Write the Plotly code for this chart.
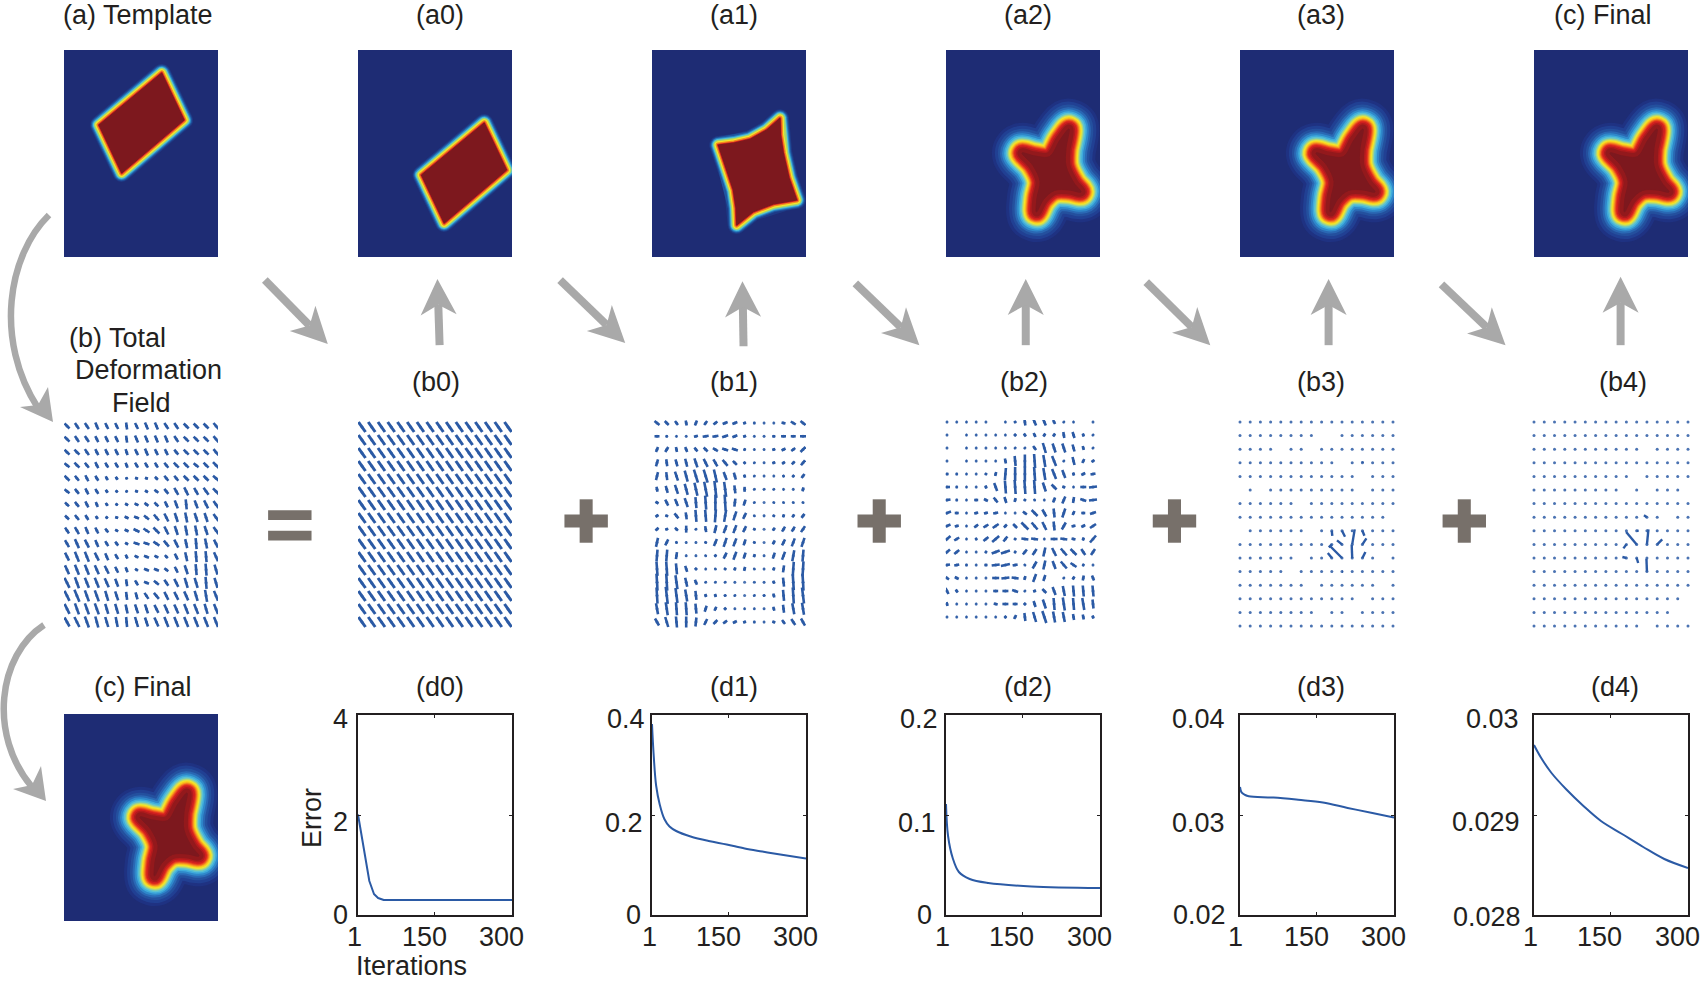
import plotly.graph_objects as go

W, H = 1702, 981
S = 1702 / 1568
FONT = "Liberation Sans"
INK = "#231f20"
GREY = "#a9a9a9"
BLUE = "#2b5aa5"
BG = "#1e2c74"
CORE = "#7d181e"

# ---- template images: outline of the dark core in image pixels
RECT_X = [97.7, 120, 57.7, 35]
RECT_Y = [23, 70, 123, 75]
RECT_SHIFT = [28.5, 50]
MID_X = [128, 128.5, 131.3, 137, 144.7, 133, 121.3, 101.3, 84.7, 84, 81.3, 74, 66.3, 82, 98, 114.7]
MID_Y = [68.3, 85, 103, 128, 150, 152, 154, 161.7, 175, 158, 140, 118, 95, 93, 89.3, 80]
STAR_X = [123, 120, 120, 128, 135, 123, 108.5, 97.5, 90.5, 91, 94, 87, 76, 89, 103.5, 114]
STAR_Y = [79, 98.5, 116, 133, 142, 140, 140.5, 149.5, 162, 148, 131.5, 115.5, 103, 106, 106.5, 90]

# distance from the core (px) and colour of each contour band, outermost first
SHARP_D = [9, 8, 7, 6, 5, 3.8, 2.6, 1.3]
SHARP_C = ["#1e3a86", "#1f55a0", "#2a86c4", "#4fc0d8", "#a6d66b", "#f5e62a", "#f5891f", "#d7241f"]
SOFT_D = [30, 27, 24, 21.5, 19.5, 17.5, 16, 14.5, 13.5, 12.5, 11.5, 10.5, 9.5, 8.5, 7.5, 6, 4.5]
SOFT_C = ["#1f3282", "#214093", "#24509e", "#2a68b4", "#2f88ca", "#3fabdc", "#5cc2d2", "#93d19a",
          "#c4dd62", "#f3e62c", "#fbc91c", "#f79a20", "#ef651f", "#e4351e", "#cf1f1f", "#b01b1d", "#93191c"]

# ---- deformation fields, 16 x 16, segment vectors in px, None = nothing drawn
B_DX = [
    [5, 4, 4, 3, 3, 3, 1, 3, 3, 3, 4, 4, 5, 5, 5, 5],
    [5, 4, 4, 3, 3, 3, 1, 3, 3, 3, 3, 4, 5, 5, 5, 5],
    [5, 5, 4, 3, 3, 3, 2, 3, 3, 3, 3, 4, 5, 5, 5, 5],
    [5, 5, 4, 3, 3, 3, 2, 3, 3, 3, 4, 5, 5, 5, 5, 6],
    [5, 4, 3, 3, 2, 2, 1, 3, 3, 3, 4, 4, 5, 5, 5, 6],
    [5, 4, 3, 3, 2, 2, 2, 3, 3, 4, 4, 4, 4, 4, 5, 6],
    [4, 4, 3, 2, 2, 2, 3, 4, 4, 4, 3, 3, 1, 3, 4, 5],
    [4, 4, 3, 2, 2, 3, 4, 5, 5, 5, 4, 3, 2, 3, 3, 5],
    [4, 4, 3, 3, 3, 3, 4, 6, 6, 6, 4, 3, 2, 2, 3, 5],
    [4, 4, 4, 3, 3, 3, 3, 6, 6, 6, 5, 4, 2, 1, 2, 4],
    [4, 4, 4, 4, 3, 3, 2, 4, 5, 4, 3, 3, 2, 1, 1, 4],
    [4, 4, 4, 4, 4, 3, 2, 3, 5, 5, 4, 3, 3, 1, 1, 3],
    [5, 4, 4, 4, 4, 3, 1, 3, 5, 5, 4, 4, 3, 3, 1, 3],
    [5, 5, 4, 4, 3, 3, 1, 2, 4, 5, 4, 4, 4, 3, 2, 4],
    [5, 4, 4, 4, 3, 3, 2, 3, 3, 4, 4, 4, 4, 4, 3, 4],
    [5, 5, 4, 3, 3, 2, 1, 3, 3, 4, 4, 4, 4, 4, 4, 4],
]
B_DY = [
    [5, 6, 6, 7, 6, 6, 7, 6, 7, 7, 6, 6, 5, 5, 5, 6],
    [5, 6, 6, 6, 6, 6, 7, 7, 7, 7, 7, 6, 5, 5, 5, 6],
    [5, 5, 6, 6, 6, 6, 6, 6, 7, 6, 6, 5, 5, 5, 5, 6],
    [4, 5, 5, 6, 5, 5, 5, 5, 5, 5, 5, 5, 5, 4, 5, 6],
    [5, 5, 6, 5, 4, 3, 2, 1, 1, 3, 5, 5, 5, 5, 5, 5],
    [4, 5, 6, 5, 3, 2, 1, 1, 2, 3, 5, 7, 8, 7, 7, 6],
    [4, 5, 6, 5, 3, 2, 2, 2, 3, 4, 6, 8, 10, 8, 8, 7],
    [4, 5, 5, 3, 2, 1, 2, 2, 4, 6, 8, 9, 10, 9, 9, 7],
    [6, 7, 7, 6, 4, 2, 2, 3, 4, 6, 8, 9, 10, 10, 9, 7],
    [7, 9, 8, 7, 5, 4, 2, 2, 2, 4, 6, 8, 9, 11, 10, 8],
    [8, 10, 10, 8, 7, 5, 4, 2, 2, 2, 3, 6, 9, 11, 11, 9],
    [9, 10, 10, 9, 8, 6, 5, 2, 2, 2, 3, 6, 9, 11, 12, 10],
    [10, 11, 10, 10, 9, 8, 7, 5, 2, 4, 6, 8, 10, 10, 12, 10],
    [10, 12, 11, 11, 10, 9, 8, 7, 6, 6, 8, 8, 9, 10, 12, 10],
    [10, 11, 11, 11, 10, 10, 9, 9, 9, 8, 9, 9, 10, 10, 10, 10],
    [9, 10, 11, 11, 10, 10, 10, 10, 9, 9, 10, 10, 10, 10, 10, 10],
]
# b0 is close to a uniform shift
B0_DX = [[7] * 16 for row in range(16)]
B0_DY = [[10] * 16 for row in range(16)]
B1_DX = [
    [5, 4, 3, 1, 2, 3, 4, 5, 5, 3, 2, 1, 1, 4, 5, 5],
    [5, 2, 1, 1, 4, 6, 6, 6, 5, 3, 1, 1, 3, 5, 5, 6],
    [2, 3, 1, 2, 3, 4, 5, 6, 6, 2, 1, 1, 3, 4, 4, 5],
    [2, 1, 2, 2, 3, 4, 4, 5, 4, 2, 1, 1, 3, 3, 3, 4],
    [2, 1, 3, 3, 4, 4, 3, 3, 2, 1, 1, 1, 1, 2, 2, 3],
    [1, 2, 3, 3, 3, 3, 2, 2, 1, 0, 1, 1, 1, 1, 1, 1],
    [3, 3, 3, 3, 1, 1, 0, 1, 1, 2, 1, 0, 1, 1, 1, 1],
    [3, 3, 4, 1, 1, 1, 1, 2, 3, 3, 1, 1, 1, 1, 2, 3],
    [3, 3, 3, 0, 1, 1, 2, 3, 3, 3, 1, 0, 2, 3, 3, 4],
    [2, 3, 2, 1, 1, 1, 3, 3, 3, 2, 1, 0, 2, 3, 3, 3],
    [1, 1, 1, 1, 1, 1, 2, 3, 3, 2, 1, 1, 2, 3, 2, 1],
    [1, 1, 1, 2, 2, 1, 1, 1, 1, 1, 1, 1, 1, 1, 1, 1],
    [1, 1, 2, 2, 2, 1, 1, 1, 1, 0, 0, 1, 1, 1, 1, 1],
    [1, 2, 2, 2, 1, 1, 1, 1, 1, 0, 1, 1, 1, 1, 1, 2],
    [2, 2, 1, 1, 1, 2, 2, 2, 1, 1, 1, 1, 1, 1, 2, 2],
    [4, 3, 1, 0, 1, 3, 4, 4, 4, 3, 2, 1, 3, 3, 4, 4],
]
B1_DY = [
    [4, 4, 4, 5, -5, -4, -3, -2, -2, -1, 0, 0, 0, 1, 3, 4],
    [0, 0, 0, 0, -1, -1, -1, -2, -2, -1, 0, 0, 0, 0, 0, 0],
    [-5, -5, 5, 5, 4, 4, 3, 2, 2, 1, 0, 0, -1, -2, -3, -5],
    [-7, 7, 7, 8, 9, 8, 7, 6, 4, 2, 1, 0, -1, -2, -3, -5],
    [-8, 8, 9, 11, 13, 13, 13, 8, 7, 3, 1, 0, 0, -1, -2, -4],
    [5, 7, 9, 11, 13, 15, 17, 15, 8, 5, 1, 1, 1, 0, 0, -4],
    [2, 6, 7, 9, 11, 14, 16, 16, -8, -6, 1, 0, -1, -1, -1, -1],
    [-2, 1, 5, 7, 12, 12, -13, -12, -9, -6, -1, 0, -2, -3, -3, -4],
    [-3, -1, 3, 7, 1, 6, -8, -8, -8, -6, -2, 0, -3, -5, -5, -6],
    [-9, -6, -1, 0, 0, -2, -7, -9, -8, -6, -2, 0, -4, -6, -8, -9],
    [-12, -12, -7, 0, 0, -1, -2, -6, -8, -6, -3, 0, -6, -8, -11, -12],
    [14, 14, 11, 6, 2, 0, -1, -2, -3, -4, -1, 0, -3, -7, -14, -15],
    [17, 17, 14, 9, 5, 1, 1, 1, 0, 0, 1, 0, 3, 9, 16, 17],
    [16, 17, 15, 12, 9, 3, 3, 2, 1, 0, 1, 2, 4, 11, 16, 16],
    [11, 13, 13, 13, 10, -6, -4, -2, 0, 0, 0, 0, 4, 8, 11, 12],
    [7, 10, 11, 11, -9, -6, -4, -3, -2, -1, 0, 0, 1, 4, 6, 7],
]
B2_DX = [
    [1, 1, 1, 1, 1, None, 1, 1, 1, 3, 3, 2, 1, 1, None, 1],
    [1, None, 1, 1, 1, 1, 1, 2, 2, 2, 2, 2, 1, 2, 1, 1],
    [1, None, 1, 1, 1, 1, 1, 1, 1, 3, 3, 3, 3, 2, 1, 1],
    [1, None, 1, 1, 1, 1, 1, 1, 0, 1, 2, 4, 1, 2, 2, 3],
    [3, 2, 1, 1, 1, 1, 1, 0, 0, 1, 2, 4, 3, 1, 4, 5],
    [6, 2, 1, 1, 1, 3, 1, 1, 1, 1, 3, 5, 3, 1, 6, 8],
    [7, 2, 1, 4, 4, 4, 2, 1, 1, 1, 1, 2, 3, 1, 6, 8],
    [8, 4, 1, 4, 4, 5, 1, 1, 4, 6, 4, 1, 3, 2, 4, 6],
    [7, 4, 1, 4, 5, 6, 3, 4, 7, 6, 4, 1, 4, 4, 4, 6],
    [7, 5, 1, 2, 5, 7, 4, 1, 7, 7, 1, 7, 7, 4, 1, 6],
    [6, 5, 1, 1, 2, 8, 9, 2, 4, 4, 2, 4, 6, 6, 4, 4],
    [6, 5, 2, 1, 3, 8, 9, 5, 1, 4, 2, 3, 6, 6, 2, 1],
    [4, 4, 1, 1, 1, 7, 8, 7, 1, 3, 2, None, 1, 2, 1, 2],
    [3, 2, 1, 1, 1, 5, 6, 6, 1, 3, 4, 3, 2, 1, 1, 1],
    [1, 1, 1, 1, 1, 4, 6, 5, 2, 2, 3, 1, 2, 1, 2, 1],
    [1, 1, 1, 1, 1, 1, 2, 2, 1, 3, 4, 2, 2, 1, 1, 1],
]
B2_DY = [
    [0, 0, 0, 0, 0, 0, 0, 2, 7, 7, 7, 4, 1, 0, 0, 0],
    [0, 0, 0, 0, 0, 0, 0, 2, 3, 4, -3, -3, 6, 6, 3, 1],
    [0, 0, 0, 0, 0, 0, 0, 1, 1, 4, 10, 9, 9, 7, 4, 1],
    [0, 0, 0, 0, 0, 0, 5, 10, 13, 14, 12, 10, 1, 8, -4, -2],
    [0, 0, 0, 0, -2, -4, -12, 14, 15, 14, 12, 10, 8, 3, -2, -1],
    [0, 0, 0, 0, 3, 8, 13, 14, 14, 14, 9, 5, 1, 0, 0, -1],
    [-1, 0, 0, 0, 2, 5, 6, -4, -2, -1, 0, -5, -7, -6, 2, -1],
    [-3, 0, 0, -1, -1, -1, 0, 0, 3, 6, 7, 9, -9, -4, 0, -2],
    [-3, -1, 0, -3, -3, -4, -3, 4, 7, 7, 8, 9, -7, -1, -2, -4],
    [-6, -3, 0, -1, -4, -6, -5, -2, 1, 1, 0, 0, 1, 1, -3, -7],
    [-5, -4, 0, 0, 1, -3, -3, 1, -5, -6, -9, 8, 7, 6, 6, -6],
    [-1, -1, 0, 0, 0, -1, -2, -1, -1, -7, -9, 8, 7, 4, 1, 0],
    [3, 2, 0, 0, 0, 0, -1, 1, -4, -8, -6, 0, 1, -3, -5, 5],
    [6, 3, 0, 0, 0, 0, 0, 2, 1, -1, 4, 8, 10, 11, 11, 11],
    [4, 0, 0, 0, 0, 1, 0, 0, 2, 6, 9, 12, 13, 12, 12, 9],
    [0, 0, 0, 0, 0, 0, -2, -4, 8, 10, 12, 11, 10, 6, 5, 3],
]
N = None
B3_DX = [
    [0, 0, 0, 0, 0, 0, 0, 0, 0, 0, 0, 0, 0, 0, 0, 0],
    [0, 0, 0, 0, 0, 0, 0, 0, N, N, 0, 0, 0, 0, 0, 0],
    [0, 0, 0, 0, N, 0, 0, N, 0, 0, 0, 0, 0, 0, 0, 0],
    [0, 0, 0, 0, 0, 0, 0, 0, 0, 0, N, 0, 0.5, 0, 0, 0],
    [0, 0, 0, 0, 0, 0, 0, 0, 0, 0, 0, 0, N, 0, 0, 0],
    [N, 0, N, 0, 0, 0, 0, 0, 0, 0, 0, 0, N, 0, 0, 0],
    [0, 0, 0, 0, 0, 0, N, 0, 0, 0, 0, 0, 0, 0, 0, 0],
    [0, 0, 0, 0, 0, 0, 0, 0, 0, 0, 0, 0, 0, 0, 0, N],
    [N, 0, 0, 0, 0, 0, 0, N, 0, 0.5, 3, 0, 2, 0, 0, 0],
    [0, 0, 0, 0, 0, 0, 0, 0, 0, -3, -5, 2.5, 4, 0, 0, 0],
    [0, 0, 0, 0, 0, 0, N, 0, 0, -4, -12, -0.5, 3, 0, N, 0],
    [0, 0, 0, 0, 0, N, 0, 0, 0, 0, 1, 0, 0, 0, 0, 0],
    [0, 0, 0, 0, 0, 0, 0, N, 0, 0, 0, 0, 0, 0, N, 0],
    [0, 0, 0, 0, 0, 0, 0, 0, 0, 0, 0, 0, N, 0, 0, 0],
    [0, 0, 0, 0, 0, 0, 0, 0, N, 0, 0, N, 0, 0, 0, 0],
    [0, 0, 0, 0, 0, 0, 0, 0, 0, 0, 0, 0, 0, 0, 0, 0],
]
B3_DY = [
    [0, 0, 0, 0, 0, 0, 0, 0, 0, 0, 0, 0, 0, 0, 0, 0],
    [0, 0, 0, 0, 0, 0, 0, 0, 0, 0, 0, 0, 0, 0, 0, 0],
    [0, 0, 0, 0, 0, 0, 0, 0, 0, 0, 0, 0, 0, 0, 0, 0],
    [0, 0, 0, 0, 0, 0, 0, 0, 0, 0, 0, 0, -1.5, 0, 0, 0],
    [0, 0, 0, 0, 0, 0, 0, 0, 0, 0, 0, 0, 0, 0, 0, 0],
    [0, 0, 0, 0, 0, 0, 0, 0, 0, 0, 0, 0, 0, 0, 0, 0],
    [0, 0, 0, 0, 0, 0, 0, 0, 0, 0, 0, 0, 0, 0, 0, 0],
    [0, 0, 0, 0, 0, 0, 0, 0, 0, 0, 0, 0, 0, 0, 0, 0],
    [0, 0, 0, 0, 0, 0, 0, 0, 0, 5, 6, 0, 5, 0, 0, 0],
    [0, 0, 0, 0, 0, 0, 0, 0, 0, 3, -4, -15, -6, 0, 0, 0],
    [0, 0, 0, 0, 0, 0, 0, 0, 0, -5, -12, -13, -6, 0, 0, 0],
    [0, 0, 0, 0, 0, 0, 0, 0, 0, 0, 0, 0, 0, 0, 0, 0],
    [0, 0, 0, 0, 0, 0, 0, 0, 0, 0, 0, 0, 0, 0, 0, 0],
    [0, 0, 0, 0, 0, 0, 0, 0, 0, 0, 0, 0, 0, 0, 0, 0],
    [0, 0, 0, 0, 0, 0, 0, 0, 0, 0, 0, 0, 0, 0, 0, 0],
    [0, 0, 0, 0, 0, 0, 0, 0, 0, 0, 0, 0, 0, 0, 0, 0],
]
B4_DX = [
    [0, 0, 0, 0, 0, 0, 0, 0, 0, 0, 0, 0, 0, 0, 0, 0],
    [0, 0, 0, 0, 0, 0, 0, 0, 0, 0, 0, 0, 0, 0, 0, 0],
    [0, 0, 0, 0, 0, 0, 0, 0, 0, 0, 0, N, 0, 0, 0, 0],
    [0, 0, 0, 0, 0, 0, 0, 0, 0, 0, 0, 0, 0, 0, 0, 0],
    [0, 0, 0, 0, 0, 0, 0, 0, 0, 0, N, 0, 0, 0, 0, 0],
    [0, 0, 0, 0, 0, 0, 0, 0, 0, N, 0, N, 0, 0, 0, N],
    [0, 0, 0, 0, 0, 0, 0, 0, 0, 0, 0, 0, 0, 0, 0, 0],
    [0, 0, 0, 0, 0, 0, 0, 0, 0, 0, 0, -3, 0, N, 0, 0],
    [0, 0, 0, 0, 0, 0, 0, 0, 0, 0, 2, 0, 0, 0, 0, 0],
    [0, 0, 0, 0, 0, 0, 0, 0, 0, -3, -10.5, 1.5, 5, 0, 0, 0],
    [0, 0, 0, 0, 0, 0, 0, 0, 0, -4, 1.5, 0, 0, 0, 0, 0],
    [0, 0, 0, 0, 0, 0, 0, 0, 0, 0, 0, -0.5, 0, 0, 0, 0],
    [0, 0, 0, 0, 0, 0, 0, 0, 0, 0, 0, 0, 0, 0, 0, 0],
    [0, 0, 0, 0, 0, 0, 0, 0, 0, 0, 0, 0, 0, 0, 0, N],
    [0, 0, 0, 0, 0, 0, 0, 0, 0, 0, 0, 0, 0, 0, N, N],
    [0, 0, 0, 0, 0, 0, 0, 0, 0, 0, 0, N, 0, 0, 0, 0],
]
B4_DY = [
    [0, 0, 0, 0, 0, 0, 0, 0, 0, 0, 0, 0, 0, 0, 0, 0],
    [0, 0, 0, 0, 0, 0, 0, 0, 0, 0, 0, 0, 0, 0, 0, 0],
    [0, 0, 0, 0, 0, 0, 0, 0, 0, 0, 0, 0, 0, 0, 0, 0],
    [0, 0, 0, 0, 0, 0, 0, 0, 0, 0, 0, 0, 0, 0, 0, 0],
    [0, 0, 0, 0, 0, 0, 0, 0, 0, 0, 0, 0, 0, 0, 0, 0],
    [0, 0, 0, 0, 0, 0, 0, 0, 0, 0, 0, 0, 0, 0, 0, 0],
    [0, 0, 0, 0, 0, 0, 0, 0, 0, 0, 0, 0, 0, 0, 0, 0],
    [0, 0, 0, 0, 0, 0, 0, 0, 0, 0, 0, -2, 0, 0, 0, 0],
    [0, 0, 0, 0, 0, 0, 0, 0, 0, 0, 0, 0, 0, 0, 0, 0],
    [0, 0, 0, 0, 0, 0, 0, 0, 0, 4, -12.5, -15, -5, 0, 0, 0],
    [0, 0, 0, 0, 0, 0, 0, 0, 0, -1, 5, 0, 0, 0, 0, 0],
    [0, 0, 0, 0, 0, 0, 0, 0, 0, 0, 0, -13, 0, 0, 0, 0],
    [0, 0, 0, 0, 0, 0, 0, 0, 0, 0, 0, 0, 0, 0, 0, 0],
    [0, 0, 0, 0, 0, 0, 0, 0, 0, 0, 0, 0, 0, 0, 0, 0],
    [0, 0, 0, 0, 0, 0, 0, 0, 0, 0, 0, 0, 0, 0, 0, 0],
    [0, 0, 0, 0, 0, 0, 0, 0, 0, 0, 0, 0, 0, 0, 0, 0],
]

# ---- error curves
D0_ITER = [1, 8, 15, 23, 32, 40, 51, 300]
D0_ERR = [2.01, 1.6, 1.2, 0.68, 0.42, 0.34, 0.3, 0.3]
D1_ITER = [1, 4, 9, 16, 25, 35, 48, 76, 111, 146, 181, 215, 250, 300]
D1_ERR = [0.382, 0.324, 0.259, 0.221, 0.192, 0.177, 0.168, 0.157, 0.148, 0.141, 0.133, 0.127, 0.121, 0.113]
D2_ITER = [1, 5, 14, 26, 47, 83, 167, 300]
D2_ERR = [0.111, 0.079, 0.057, 0.043, 0.036, 0.032, 0.0286, 0.027]
D3_ITER = [1, 4, 11, 18, 66, 114, 162, 210, 258, 300]
D3_ERR = [0.0328, 0.03226, 0.0320, 0.03187, 0.03174, 0.03152, 0.03126, 0.03071, 0.0302, 0.02974]
D4_ITER = [1, 15, 35, 63, 97, 131, 172, 213, 254, 300]
D4_ERR = [0.0297, 0.02957, 0.02942, 0.02926, 0.02909, 0.02894, 0.02881, 0.02868, 0.02856, 0.02847]
ITER_TICKS = [1, 150, 300]
ITER_LABELS = ["1", "150", "300"]

fig = go.Figure()
n_axes = 1
shapes = []
annotations = []


def new_axes(left, top, w, h, xr, yr, **kw):
    # one small axes pair placed by reference pixels
    global n_axes
    n_axes += 1
    base = dict(range=xr, domain=[left / W, (left + w) / W], anchor=f"y{n_axes}",
                showgrid=False, zeroline=False, visible=False)
    ybase = dict(range=yr, domain=[1 - (top + h) / H, 1 - top / H], anchor=f"x{n_axes}",
                 showgrid=False, zeroline=False, visible=False)
    base.update(kw)
    ybase.update(kw)
    fig.layout[f"xaxis{n_axes}"] = base
    fig.layout[f"yaxis{n_axes}"] = ybase
    return f"x{n_axes}", f"y{n_axes}"


def image_panel(left, top, xs, ys, band_d, band_c, dx=0, dy=0, shape="linear"):
    xa, ya = new_axes(left, top, 154, 207, [0, 154], [207, 0])
    fig.add_trace(go.Scatter(x=[0, 154, 154, 0, 0], y=[0, 0, 207, 207, 0], xaxis=xa, yaxis=ya, mode="lines",
                             fill="toself", fillcolor=BG, line=dict(color=BG, width=0),
                             hoverinfo="skip", showlegend=False))
    px = [v + dx for v in xs]
    py = [v + dy for v in ys]
    # bands run past the start so the closing corner gets a round join too
    for d, c in zip(band_d, band_c):
        fig.add_trace(go.Scatter(x=px + px[:2], y=py + py[:2], xaxis=xa, yaxis=ya, mode="lines",
                                 line=dict(color=c, width=2 * d, shape=shape),
                                 hoverinfo="skip", showlegend=False))
    fig.add_trace(go.Scatter(x=px + px[:1], y=py + py[:1], xaxis=xa, yaxis=ya, mode="lines", fill="toself",
                             fillcolor=CORE, line=dict(color=CORE, width=1, shape=shape),
                             hoverinfo="skip", showlegend=False))


def field_panel(left, fdx, fdy, x0, x1, y0, y1, centred, lw):
    xa, ya = new_axes(left, 420, 154, 208, [0, 154], [208, 0])
    lx, ly, dotx, doty = [], [], [], []
    for r in range(16):
        gy = y0 + (y1 - y0) * r / 15
        for c in range(16):
            if fdx[r][c] is None:
                continue
            gx = x0 + (x1 - x0) * c / 15
            u, v = fdx[r][c], fdy[r][c]
            if centred:
                lx += [gx - u / 2, gx + u / 2, None]
                ly += [gy - v / 2, gy + v / 2, None]
            else:
                lx += [gx, gx + u, None]
                ly += [gy, gy + v, None]
            dotx.append(gx)
            doty.append(gy)
    fig.add_trace(go.Scatter(x=lx, y=ly, xaxis=xa, yaxis=ya, mode="lines", cliponaxis=False,
                             line=dict(color=BLUE, width=lw), hoverinfo="skip", showlegend=False))
    fig.add_trace(go.Scatter(x=dotx, y=doty, xaxis=xa, yaxis=ya, mode="markers", cliponaxis=False,
                             marker=dict(color=BLUE, size=3, opacity=0.85), hoverinfo="skip", showlegend=False))


def curve_panel(left, it, err, ylo, yhi, yticks, shape="spline"):
    xa, ya = new_axes(left, 715, 154, 200, [1, 300], [ylo, yhi], visible=True, showline=True, mirror="ticks",
                      linecolor=INK, linewidth=2.4, ticks="inside", ticklen=3, tickwidth=1, tickcolor=INK,
                      showticklabels=False)
    fig.layout[xa.replace("x", "xaxis")].tickvals = ITER_TICKS
    fig.layout[ya.replace("y", "yaxis")].tickvals = yticks
    fig.add_trace(go.Scatter(x=it, y=err, xaxis=xa, yaxis=ya, mode="lines", cliponaxis=False,
                             line=dict(color=BLUE, width=2, shape=shape),
                             hoverinfo="skip", showlegend=False))


def label(text, x, y, **kw):
    # x, y read from the 1568 wide copy
    annotations.append(dict(text=text, x=x * S, y=y * S, xref="x", yref="y", showarrow=False,
                            xanchor="center", yanchor="middle", borderpad=0,
                            font=dict(family=FONT, size=27, color=INK), **kw))


def straight_arrow(x0, y0, x1, y1, head=36, half=18):
    x0, y0, x1, y1 = x0 * S, y0 * S, x1 * S, y1 * S
    ln = ((x1 - x0) ** 2 + (y1 - y0) ** 2) ** 0.5
    ux, uy = (x1 - x0) / ln, (y1 - y0) / ln
    nx, ny = x1 - ux * head * 0.72, y1 - uy * head * 0.72
    shapes.append(dict(type="line", xref="x", yref="y", x0=x0, y0=y0, x1=nx, y1=ny,
                       line=dict(color=GREY, width=8)))
    bx, by = x1 - ux * head, y1 - uy * head
    p = (f"M {x1} {y1} L {bx - uy * half} {by + ux * half} L {nx} {ny} "
         f"L {bx + uy * half} {by - ux * half} Z")
    shapes.append(dict(type="path", xref="x", yref="y", path=p, fillcolor=GREY, line_width=0))


def bar(x0, y0, x1, y1):
    shapes.append(dict(type="rect", xref="x", yref="y", x0=x0 * S, y0=y0 * S, x1=x1 * S, y1=y1 * S,
                       fillcolor="#77706a", line_width=0))


PANEL_X = [64, 358, 652, 946, 1240, 1534]

# full-figure overlay for labels and arrows
fig.layout.xaxis = dict(range=[0, W], domain=[0, 1], visible=False, fixedrange=True)
fig.layout.yaxis = dict(range=[H, 0], domain=[0, 1], visible=False, fixedrange=True)

image_panel(PANEL_X[0], 50, RECT_X, RECT_Y, SHARP_D, SHARP_C)
image_panel(PANEL_X[1], 50, RECT_X, RECT_Y, SHARP_D, SHARP_C, RECT_SHIFT[0], RECT_SHIFT[1])
image_panel(PANEL_X[2], 50, MID_X, MID_Y, SHARP_D, SHARP_C)
for left in PANEL_X[3:]:
    image_panel(left, 50, STAR_X, STAR_Y, SOFT_D, SOFT_C, shape="spline")
image_panel(PANEL_X[0], 714, STAR_X, STAR_Y, SOFT_D, SOFT_C, shape="spline")

field_panel(PANEL_X[0], B_DX, B_DY, 3, 152, 6, 202, True, 2.6)
field_panel(PANEL_X[1], B0_DX, B0_DY, 4, 150, 7, 202, True, 3)
field_panel(PANEL_X[2], B1_DX, B1_DY, 5, 151, 3, 202, True, 2.6)
field_panel(PANEL_X[3], B2_DX, B2_DY, 1, 147, 2, 197, True, 2.6)
field_panel(PANEL_X[4], B3_DX, B3_DY, 0, 153, 2, 206, False, 2.4)
field_panel(PANEL_X[5], B4_DX, B4_DY, 0, 154, 2, 206, False, 2.4)

curve_panel(PANEL_X[1], D0_ITER, D0_ERR, 0, 4, [0, 2, 4], shape="linear")
curve_panel(PANEL_X[2], D1_ITER, D1_ERR, 0, 0.4, [0, 0.2, 0.4])
curve_panel(PANEL_X[3], D2_ITER, D2_ERR, 0, 0.2, [0, 0.1, 0.2])
curve_panel(PANEL_X[4], D3_ITER, D3_ERR, 0.02, 0.04, [0.02, 0.03, 0.04])
curve_panel(PANEL_X[5], D4_ITER, D4_ERR, 0.028, 0.03, [0.028, 0.029, 0.03])

# titles
for t, x, y in [("(a) Template", 127.5, 14), ("(a0)", 405, 14), ("(a1)", 676, 14), ("(a2)", 947, 14),
                ("(a3)", 1217, 14), ("(c) Final", 1477, 14), ("(b) Total", 108, 311),
                ("Deformation", 137, 341), ("Field", 130, 371), ("(b0)", 402, 352), ("(b1)", 676, 352),
                ("(b2)", 943, 352), ("(b3)", 1217, 352), ("(b4)", 1495, 352), ("(c) Final", 132, 633),
                ("(d0)", 405, 633), ("(d1)", 676, 633), ("(d2)", 947, 633), ("(d3)", 1217, 633),
                ("(d4)", 1488, 633), ("Iterations", 379, 889.5)]:
    label(t, x, y)
label("Error", 288, 754, textangle=-90)

# hand placed tick labels, the original sits them off the tick positions
for xs in [(327, 391, 462), (598, 662, 733), (868, 932, 1004), (1138, 1204, 1275), (1410, 1474, 1545)]:
    for t, x in zip(ITER_LABELS, xs):
        label(t, x, 863)
for t, x, y in [("4", 314, 662), ("2", 314, 757), ("0", 314, 843),
                ("0.4", 577, 662), ("0.2", 575, 758), ("0", 584, 843),
                ("0.2", 847, 662), ("0.1", 845, 758), ("0", 852, 843),
                ("0.04", 1104, 662), ("0.03", 1104, 758), ("0.02", 1105, 843),
                ("0.03", 1375, 662), ("0.029", 1369, 757), ("0.028", 1370, 845)]:
    label(t, x, y)

# grey arrows
for tail, tip in [((244, 258), (302, 317)), ((516, 258), (576, 316)), ((788, 261), (847, 318)),
                  ((1056, 260), (1115, 318)), ((1328, 262), (1387, 318)),
                  ((405, 318), (403, 257)), ((685, 319), (684, 259)), ((945, 318), (945, 257)),
                  ((1224, 318), (1224, 257)), ((1493, 318), (1493, 255))]:
    straight_arrow(tail[0], tail[1], tip[0], tip[1])

shapes.append(dict(type="path", xref="x", yref="y", path="M 49 215 C 8 255, -6 340, 38 408",
                   line=dict(color=GREY, width=6.5)))
shapes.append(dict(type="path", xref="x", yref="y", path="M 53 422 L 48 387 L 38 405 L 20 407 Z",
                   fillcolor=GREY, line_width=0))
shapes.append(dict(type="path", xref="x", yref="y", path="M 44 625 C -2 655, -12 735, 32 787",
                   line=dict(color=GREY, width=6.5)))
shapes.append(dict(type="path", xref="x", yref="y", path="M 46 801 L 41 766 L 32 785 L 13 789 Z",
                   fillcolor=GREY, line_width=0))

# equals and plus signs
bar(247, 470, 287, 479)
bar(247, 489, 287, 498)
for cx in [540, 810, 1082, 1349]:
    bar(cx - 20, 474, cx + 20, 486)
    bar(cx - 6, 460, cx + 6, 500)

fig.update_layout(width=W, height=H, margin=dict(l=0, r=0, t=0, b=0), paper_bgcolor="white",
                  plot_bgcolor="white", showlegend=False, shapes=shapes, annotations=annotations,
                  font=dict(family=FONT, color=INK))
# plotly has no line join option, the contour bands need round joins
page_css = ("document.body.style.margin='0';"
            "var st=document.createElement('style');"
            "st.textContent='.scatterlayer path{stroke-linejoin:round !important}';"
            "document.head.appendChild(st);")
fig.write_html("out.html", post_script=page_css, config={"displayModeBar": False})
